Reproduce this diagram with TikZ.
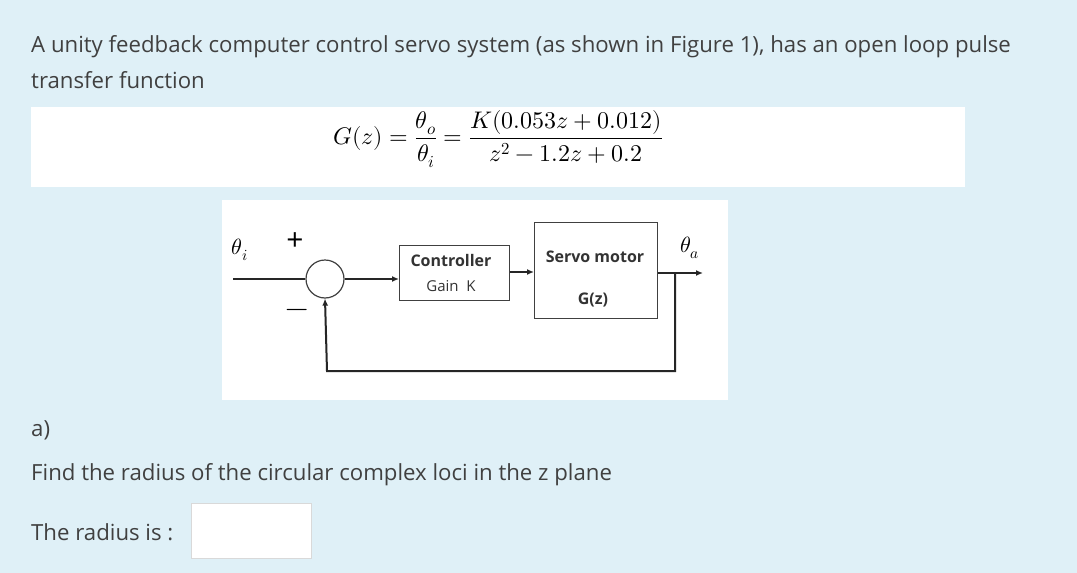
\documentclass[tikz,border=0pt]{standalone}
\usepackage{fontspec}
\setmainfont{Open Sans}
\usepackage{unicode-math}
\setmathfont{Latin Modern Math}
\usetikzlibrary{arrows.meta}
\definecolor{bg}{HTML}{DFF0F7}
\definecolor{txt}{HTML}{404040}
\tikzset{blk/.style={draw=black!75,line width=1.2pt,fill=white},
 sig/.style={line width=2pt,black!85},
 arr/.style={sig,-{Latex[length=7pt,width=6pt]}},
 q/.style={anchor=west,text=txt,font=\fontsize{22.2}{24}\selectfont,inner sep=0pt},
 dg/.style={font=\fontsize{16}{18}\selectfont\bfseries,text=black!80}}
\begin{document}
\begin{tikzpicture}[x=1pt,y=-1pt]
\fill[bg] (0,0) rectangle (1077,573);
\useasboundingbox (0,0) rectangle (1077,573);
\node[q] (l1) at (31,47) {A unity feedback computer control servo system (as shown in Figure 1), has an open loop pulse};
\node[q] (l2) at (31,80) {transfer function};
\fill[white] (31,107) rectangle (965,187);
\node[font=\fontsize{24}{26}\selectfont] (eq) at (498,139) {$G(z)=\dfrac{\theta_o}{\theta_i}=\dfrac{K(0.053z+0.012)}{z^2-1.2z+0.2}$};
\fill[white] (222,200) rectangle (728,400);
\node[draw=black!75,line width=1.2pt,fill=white,circle,minimum size=38pt,inner sep=0pt] (s) at (325,279) {};
\node[blk,minimum width=110pt,minimum height=55pt,anchor=north west] (c) at (399,245) {};
\node[dg] at (451,260) {Controller};
\node[dg,font=\fontsize{15}{17}\selectfont] at (451,286) {Gain\ \ K};
\node[blk,minimum width=123pt,minimum height=96pt,anchor=north west] (m) at (534,222) {};
\node[dg] at (595,257) {Servo motor};
\node[dg] at (593,300) {G(z)};
\coordinate (in) at (233,279);
\coordinate (out) at (703,273);
\coordinate (br) at (675,273);
\coordinate (b1) at (675,371);
\coordinate (b2) at (327,371);
\draw[sig] (in) -- (s.west);
\draw[arr] (s.east) -- (c.west|-s.east);
\draw[arr] (c.east|-0,272) -- (m.west|-0,272);
\draw[arr] (m.east|-out) -- (out);
\draw[arr] (br) -- (b1) -- (b2) -- (s.south);
\node[font=\fontsize{22}{24}\selectfont] at (240,250) {$\theta_i$};
\node[font=\fontsize{22}{24}\selectfont] at (690,248) {$\theta_a$};
\node[font=\fontsize{30}{30}\selectfont] at (295,242) {+};
\node[font=\fontsize{30}{30}\selectfont] at (297,313) {$-$};
\node[q] (a) at (31,430) {a)};
\node[q] (f) at (31,475) {Find the radius of the circular complex loci in the z plane};
\node[q] (r) at (31,532) {The radius is :};
\draw[fill=white,draw=black!15] (191,503) rectangle (311,558);
\end{tikzpicture}
\end{document}
